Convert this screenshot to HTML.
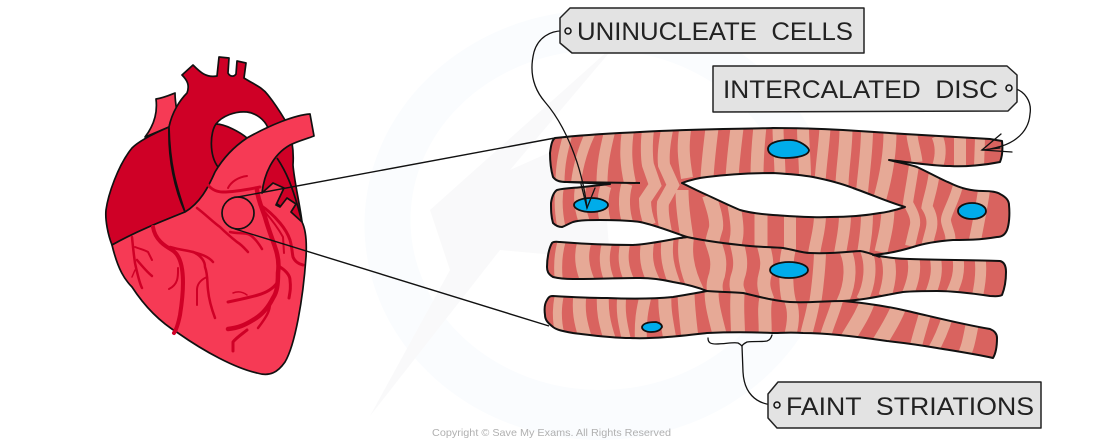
<!DOCTYPE html>
<html lang="en">
<head>
<meta charset="utf-8">
<title>Cardiac muscle diagram</title>
<style>
html,body{margin:0;padding:0;background:#fff;width:1100px;height:444px;overflow:hidden}
svg{display:block}
text{font-family:"Liberation Sans",sans-serif}
</style>
</head>
<body>
<svg width="1100" height="444" viewBox="0 0 1100 444" xmlns="http://www.w3.org/2000/svg">
<defs>
<clipPath id="cc"><path d="M555 138 C590 134 620 133 640 132 C690 129 740 129 773 128 C800 128 825 129 843 130 C890 133 950 137 990 139 L1002 141 C1003 150 1002 157 1000 162 C985 165 965 167 950 166 C935 166 915 163 889 160 C900 163 908 164 917 167 C930 173 940 179 950 183 C960 188 972 191 983 191 C992 191 997 192 1000 194 C1006 197 1009 201 1009 205 C1010 215 1009 225 1007 230 C1005 235 1001 237 997 237 C980 240 965 240 953 240 C940 241 925 243 913 247 C900 251 885 254 873 255 C885 257 897 259 910 259 C940 260 975 260 1000 261 C1004 262 1006 266 1006 272 C1006 282 1004 290 1002 295 C998 297 994 296 990 296 C970 293 950 291 937 291 C925 291 915 291 903 292 C885 295 865 300 843 301 C865 303 885 306 903 310 C930 316 960 324 990 329 C995 331 997 334 997 338 C997 347 996 353 993 358 C975 354 955 351 937 348 C920 345 905 343 887 341 C860 337 830 333 803 333 C790 332 780 333 773 333 C750 332 730 332 707 333 C680 336 655 339 630 338 C610 338 590 335 573 333 C562 331 557 330 553 327 C548 323 545 320 545 315 C544 308 545 303 547 300 C549 296 551 296 553 296 C570 297 590 298 607 298 C630 299 652 299 673 297 C685 295 697 293 707 291 C697 287 685 284 673 282 C660 279 650 278 640 278 C620 278 595 279 573 279 C563 279 557 278 553 277 C548 274 547 271 547 267 C547 258 549 248 552 243 C554 241 557 242 560 242 C585 244 610 245 633 245 C650 244 668 240 680 238 L687 237 C672 232 655 225 640 222 C625 220 612 220 600 220 C590 220 580 220 573 222 C568 224 565 226 562 227 C558 227 555 225 553 223 C551 216 551 210 551 203 C552 196 554 192 557 190 C565 188 575 188 583 187 L610 184 L567 182 C560 182 556 181 553 177 C551 170 550 160 550 153 C551 145 552 140 555 138Z"/></clipPath>
<clipPath id="ra"><polygon points="540,120 1020,120 1020,250 880,256 860,251 810,253 783,248 740,245 687,237 540,235"/></clipPath>
<clipPath id="rb"><polygon points="540,235 687,237 740,245 783,248 810,253 860,251 880,256 1020,250 1020,298 843,301 790,302 743,293 707,291 540,285"/></clipPath>
<clipPath id="rc"><polygon points="540,285 707,291 743,293 790,302 843,301 1020,298 1020,370 540,370"/></clipPath>
</defs>

<!-- watermark -->
<path fill="#fafcfe" fill-rule="evenodd" d="M600 10 A235 215 0 1 1 599 10Z M600 50 A190 170 0 1 0 601 50Z"/>
<polygon points="430,210 620,40 510,170 600,130 610,260 500,250 370,416 450,270" fill="#f9f9fa"/>

<!-- heart -->
<g stroke="#111" stroke-width="1.7" stroke-linejoin="round">
<path fill="#f63a55" d="M145 137 C152 128 158 115 156 99 C163 98 170 95 175 93 C175 100 176 106 177 112 C173 116 170 122 169 127Z"/>
<path fill="#cf0026" d="M112 245 C108 235 105 220 106 210 C108 195 118 165 132 148 C140 140 155 133 169 127 C168 160 175 190 185 212 C160 222 135 232 112 245Z"/>
<path fill="#cf0026" d="M169 127 C172 112 180 100 187 93 C190 85 187 80 182 75 L193 65 C200 72 206 78 217 76 L219 57 L229 58 L228 73 C230 77 234 77 236 74 L237 61 L246 63 L244 78 C255 85 262 87 268 95 C276 105 282 115 285 120 C292 135 294 150 293 165 C294 180 300 205 302 222 L262 193 L185 212 C178 190 170 170 169 127Z"/>
<path fill="#fff" d="M216 124 C222 116 235 111 247 112 C256 113 265 120 268 128 L247 138 C240 132 225 124 216 124Z"/>
<path fill="none" d="M216 124 C210 132 209 155 218 167"/>
<path fill="none" d="M277 158 C285 170 292 183 302 222"/>
<path fill="#f63a55" d="M112 245 C118 270 125 280 132 287 C145 307 160 322 178 333 C205 352 235 368 257 373 C270 377 278 372 285 362 C295 345 303 300 306 257 C307 240 305 228 302 222 L291 212 L296 204 L287 198 L280 207 L276 205 L284 188 L273 183 L262 193 C264 175 272 155 290 145 C298 141 306 139 314 136 L310 114 C295 115 270 125 247 138 C232 148 222 160 215 172 C208 188 200 203 185 212 C160 222 135 232 112 245Z"/>
</g>
<g fill="none" stroke="#cf0026" stroke-linecap="round" stroke-linejoin="round">
<path stroke-width="4" d="M153 227 C155 240 165 246 172 250 C186 258 184 290 180 315 C178 325 176 330 174 333"/>
<path stroke-width="2.5" d="M170 247 C180 250 186 250 193 252 C202 256 205 262 205 267 C208 275 207 282 208 290 C209 300 212 310 215 318"/>
<path stroke-width="2.5" d="M193 252 C200 254 208 256 213 262"/>
<path stroke-width="2" d="M207 277 C200 280 197 285 197 290 L197 305"/>
<path stroke-width="2" d="M178 268 C178 275 179 284 169 289"/>
<path stroke-width="2.5" d="M132 237 C133 248 134 256 135 263 C137 272 139 282 142 288"/>
<path stroke-width="2" d="M135 247 C140 249 145 250 148 252 L152 260"/>
<path stroke-width="2.5" d="M137 260 C142 266 147 272 152 276"/>
<path stroke-width="1.5" d="M135 270 L132 277"/>
<path stroke-width="3" d="M208 185 C212 190 218 192 223 192 C235 192 250 189 260 187"/>
<path stroke-width="2" d="M228 188 C231 182 238 177 247 176"/>
<path stroke-width="2.5" d="M197 208 C205 214 213 222 220 227 C226 233 232 238 237 242 C242 245 246 250 248 252"/>
<path stroke-width="2.5" d="M230 232 C238 234 245 232 250 235 C255 238 259 244 262 249"/>
<path stroke-width="4.5" d="M257 190 C258 200 262 208 265 217 C268 228 272 238 275 247 C279 258 279 266 278 273 C278 285 277 292 273 298 C268 308 262 315 253 320 C245 325 238 328 228 329"/>
<path stroke-width="3" d="M277 283 C272 290 265 293 258 295 C248 298 238 300 228 302"/>
<path stroke-width="1.5" d="M233 293 C238 291 243 292 247 295"/>
<path stroke-width="2.5" d="M270 303 C270 310 268 315 258 328"/>
<path stroke-width="3" d="M247 330 C242 334 236 338 233 342 L233 351"/>
<path stroke-width="3" d="M280 267 C285 270 290 275 290 280 C291 288 290 292 289 298"/>
<path stroke-width="3" d="M260 205 C268 210 275 217 280 223 C285 229 288 234 290 240 C292 247 292 252 293 257 C295 262 299 264 303 265"/>
<path stroke-width="2" d="M265 212 C272 220 278 228 283 237 L284 253"/>
</g>
<circle cx="238" cy="213" r="16" fill="none" stroke="#111" stroke-width="1.7"/>
<g fill="none" stroke="#111" stroke-width="1.4">
<path d="M238 197 L555 138"/>
<path d="M235 229 L549 326"/>
</g>

<!-- muscle cells -->
<g clip-path="url(#cc)">
<rect x="540" y="120" width="480" height="245" fill="#d9635f"/>
<g fill="none" stroke="#e6a996">
<g clip-path="url(#ra)">
<!-- top row -->
<path stroke-width="9" d="M569 130 C565 145 560 160 560 183"/>
<path stroke-width="10" d="M592 130 C584 145 578 165 576 183"/>
<path stroke-width="11" d="M610 130 C605 150 602 165 602 183"/>
<path stroke-width="12" d="M628 130 C625 150 626 165 630 183"/>
<path stroke-width="12" d="M648 130 C646 145 647 160 648 165 L655 185 L645 200 C645 208 646 215 650 225"/>
<path stroke-width="12" d="M667 130 C664 145 663 155 664 165 L673 185 L663 203 C662 212 664 222 666 232"/>
<path stroke-width="12" d="M685 130 C683 145 683 155 687 178"/>
<path stroke-width="13" d="M682 190 C682 205 684 220 687 238"/>
<path stroke-width="13" d="M712 128 C710 145 708 160 707 178"/>
<path stroke-width="14" d="M709 195 C714 210 717 220 716 228 C714 235 712 240 712 245"/>
<path stroke-width="13" d="M737 128 C735 145 733 160 732 178"/>
<path stroke-width="13" d="M734 205 C737 222 738 232 736 240 L734 250"/>
<path stroke-width="13" d="M760 126 C758 145 757 160 757 176"/>
<path stroke-width="13" d="M761 212 L761 250"/>
<path stroke-width="11" d="M778 126 C778 145 780 160 780 176"/>
<path stroke-width="12" d="M790 214 L790 252"/>
<path stroke-width="12" d="M803 126 C803 145 805 160 805 177"/>
<path stroke-width="12" d="M820 215 C820 230 816 240 814 254"/>
<path stroke-width="11" d="M825 128 C824 145 821 165 820 182"/>
<path stroke-width="12" d="M845 215 C845 230 842 240 840 254"/>
<path stroke-width="13" d="M846 128 C846 150 842 170 842 186"/>
<path stroke-width="12" d="M867 214 C867 230 865 240 863 254"/>
<path stroke-width="12" d="M867 130 C867 150 864 170 862 192"/>
<path stroke-width="13" d="M888 207 C888 225 884 238 881 252"/>
<path stroke-width="13" d="M890 132 C890 155 885 180 880 198"/>
<path stroke-width="11" d="M912 135 C913 145 916 152 917 162"/>
<path stroke-width="11" d="M937 136 C941 145 941 155 938 165"/>
<path stroke-width="12" d="M960 138 L960 167"/>
<path stroke-width="10" d="M980 138 L979 167"/>
<!-- row 2 left -->
<path stroke-width="8" d="M560 186 C558 197 558 212 562 230"/>
<path stroke-width="11" d="M581 186 C578 197 580 212 586 226"/>
<path stroke-width="11" d="M606 186 C602 197 602 212 606 224"/>
<path stroke-width="11" d="M627 184 C623 197 624 212 628 224"/>
<!-- right branch -->
<path stroke-width="10" d="M914 165 C912 180 909 195 908 203 C913 212 916 218 915 225 L910 246"/>
<path stroke-width="11" d="M934 175 C932 190 928 200 927 207 C932 215 933 222 931 230 L927 245"/>
<path stroke-width="10" d="M958 185 C955 200 945 215 946 221 C947 228 952 235 950 243"/>
<path stroke-width="12" d="M984 190 C982 205 978 225 975 240"/>
</g>
<g clip-path="url(#rb)">
<path stroke-width="8" d="M562 240 C559 250 557 265 559 282"/>
<path stroke-width="14" d="M585 240 C580 255 582 268 588 282"/>
<path stroke-width="10" d="M608 240 C603 255 604 268 610 282"/>
<path stroke-width="10" d="M626 240 C622 255 623 268 630 282"/>
<path stroke-width="13" d="M648 240 C645 255 646 268 655 284"/>
<path stroke-width="12" d="M668 236 C665 255 668 268 676 288"/>
<path stroke-width="15" d="M687 234 C684 250 685 268 697 292"/>
<path stroke-width="16" d="M711 236 C718 255 720 262 717 275 C714 283 714 288 716 296"/>
<path stroke-width="14" d="M736 240 C740 255 742 265 738 276 C735 285 737 290 740 296"/>
<path stroke-width="13" d="M763 244 C767 258 768 265 765 275 C762 285 765 292 768 300"/>
<path stroke-width="14" d="M790 246 C785 258 785 290 790 305"/>
<path stroke-width="12" d="M820 250 C820 262 818 285 815 304"/>
<path stroke-width="12" d="M845 250 C851 262 852 282 842 303"/>
<path stroke-width="12" d="M866 250 C872 265 870 285 862 300"/>
<path stroke-width="13" d="M887 255 C891 268 890 280 885 296"/>
<path stroke-width="12" d="M913 256 C916 270 913 282 907 296"/>
<path stroke-width="11" d="M935 256 C938 270 936 280 930 295"/>
<path stroke-width="11" d="M958 258 C960 272 957 282 950 296"/>
<path stroke-width="11" d="M980 258 C982 272 980 285 977 298"/>
</g>
<g clip-path="url(#rc)">
<path stroke-width="9" d="M560 292 C557 305 556 318 560 335"/>
<path stroke-width="13" d="M580 294 C578 310 580 322 586 340"/>
<path stroke-width="12" d="M603 294 C602 310 604 322 610 340"/>
<path stroke-width="9" d="M622 294 C620 310 622 322 627 342"/>
<path stroke-width="12" d="M646 294 C642 310 640 322 641 342"/>
<path stroke-width="13" d="M665 294 C664 310 667 322 670 340"/>
<path stroke-width="17" d="M686 290 C686 305 688 322 690 338"/>
<path stroke-width="14" d="M712 288 C710 300 716 320 720 336"/>
<path stroke-width="14" d="M738 290 C736 305 738 320 738 336"/>
<path stroke-width="13" d="M766 298 C763 310 766 322 765 336"/>
<path stroke-width="12" d="M790 300 C795 312 793 325 790 336"/>
<path stroke-width="12" d="M814 300 C812 315 808 325 806 336"/>
<path stroke-width="11" d="M838 298 C835 312 828 325 825 338"/>
<path stroke-width="15" d="M868 300 C862 318 852 330 846 342"/>
<path stroke-width="15" d="M900 304 C894 320 884 335 878 345"/>
<path stroke-width="12" d="M926 310 C922 325 917 340 915 350"/>
<path stroke-width="11" d="M948 315 C944 328 938 342 932 352"/>
<path stroke-width="13" d="M973 320 C970 335 968 350 962 358"/>
</g>
</g>
</g>
<path fill="#fff" stroke="#111" stroke-width="2" stroke-linejoin="round" d="M682 183 C690 180 698 178 707 177 C730 174 750 173 773 173 C790 174 802 175 813 177 C828 180 840 183 853 188 C870 194 888 202 905 207 C896 210 888 212 880 213 C863 216 846 217 830 217 C810 218 790 216 773 215 C760 214 750 213 740 210 C728 205 718 200 707 195 C698 191 690 187 682 183Z"/>
<g fill="none" stroke="#111" stroke-width="2" stroke-linejoin="round">
<path d="M555 138 C590 134 620 133 640 132 C690 129 740 129 773 128 C800 128 825 129 843 130 C890 133 950 137 990 139 L1002 141 C1003 150 1002 157 1000 162 C985 165 965 167 950 166 C935 166 915 163 889 160 C900 163 908 164 917 167 C930 173 940 179 950 183 C960 188 972 191 983 191 C992 191 997 192 1000 194 C1006 197 1009 201 1009 205 C1010 215 1009 225 1007 230 C1005 235 1001 237 997 237 C980 240 965 240 953 240 C940 241 925 243 913 247 C900 251 885 254 873 255 C885 257 897 259 910 259 C940 260 975 260 1000 261 C1004 262 1006 266 1006 272 C1006 282 1004 290 1002 295 C998 297 994 296 990 296 C970 293 950 291 937 291 C925 291 915 291 903 292 C885 295 865 300 843 301 C865 303 885 306 903 310 C930 316 960 324 990 329 C995 331 997 334 997 338 C997 347 996 353 993 358 C975 354 955 351 937 348 C920 345 905 343 887 341 C860 337 830 333 803 333 C790 332 780 333 773 333 C750 332 730 332 707 333 C680 336 655 339 630 338 C610 338 590 335 573 333 C562 331 557 330 553 327 C548 323 545 320 545 315 C544 308 545 303 547 300 C549 296 551 296 553 296 C570 297 590 298 607 298 C630 299 652 299 673 297 C685 295 697 293 707 291 C697 287 685 284 673 282 C660 279 650 278 640 278 C620 278 595 279 573 279 C563 279 557 278 553 277 C548 274 547 271 547 267 C547 258 549 248 552 243 C554 241 557 242 560 242 C585 244 610 245 633 245 C650 244 668 240 680 238 L687 237 C672 232 655 225 640 222 C625 220 612 220 600 220 C590 220 580 220 573 222 C568 224 565 226 562 227 C558 227 555 225 553 223 C551 216 551 210 551 203 C552 196 554 192 557 190 C565 188 575 188 583 187 L610 184 L567 182 C560 182 556 181 553 177 C551 170 550 160 550 153 C551 145 552 140 555 138Z"/>
<path d="M567 182 L640 183"/>
<path d="M680 238 L687 237 C705 241 722 243 740 245 C755 247 770 247 783 248 C795 250 802 253 810 253 C830 254 845 252 860 251 C867 252 872 254 880 257"/>
<path d="M707 291 C720 292 732 292 743 293 C760 297 775 301 790 302 C808 303 825 301 843 301"/>
</g>
<g fill="#00acea" stroke="#111" stroke-width="1.8">
<path d="M768 149 C768 143 778 140 790 140 C800 140 808 147 809 150 C809 156 795 158 785 158 C775 158 768 154 768 149Z"/>
<ellipse cx="972" cy="211" rx="14" ry="8"/>
<ellipse cx="591" cy="205" rx="17" ry="7"/>
<ellipse cx="789" cy="270" rx="19" ry="8"/>
<path d="M642 327 C643 323 650 322 656 322 C660 323 662 325 662 327 C660 331 655 332 651 332 C646 332 642 330 642 327Z"/>
</g>

<!-- connectors -->
<g fill="none" stroke="#111" stroke-width="1.3" stroke-linecap="round">
<path d="M565 31 C550 30 538 38 534 52 C529 72 533 88 545 102 C565 125 582 165 587 208"/>
<path d="M581 184 L587 208 L595 188"/>
<path d="M1012 88 C1025 90 1032 102 1030 114 C1029 128 1020 140 1002 146 C995 148 988 150 982 150"/>
<path d="M1001 134 L982 150 L1012 152"/>
<path d="M982 150 L1000 148"/>
<path d="M708 338 C708 343 711 344 716 344 C725 344 733 342 738 343 C740 344 741 345 742 346 C743 344 745 343 747 342 C755 341 763 342 767 341 C770 340 771 338 772 335"/>
<path d="M742 346 L743 372 C744 392 755 404 774 405"/>
</g>

<!-- labels -->
<g fill="#e3e3e3" stroke="#222" stroke-width="1.5" stroke-linejoin="round">
<polygon points="560,18 570,8 864,8 864,53 572,53 560,43"/>
<polygon points="713,66 1007,66 1017,75 1017,102 1008,111 713,112"/>
<polygon points="778,382 1041,382 1041,428 777,428 768,418 768,394"/>
</g>
<g fill="#e3e3e3" stroke="#111" stroke-width="1.5">
<circle cx="568" cy="31" r="3"/>
<circle cx="1009" cy="88" r="3"/>
<circle cx="777" cy="405" r="3"/>
</g>
<g fill="#222" font-size="25">
<text x="577" y="40" textLength="276" lengthAdjust="spacingAndGlyphs" xml:space="preserve">UNINUCLEATE  CELLS</text>
<text x="723" y="98" textLength="275" lengthAdjust="spacingAndGlyphs" xml:space="preserve">INTERCALATED  DISC</text>
<text x="786" y="415" textLength="248" lengthAdjust="spacingAndGlyphs" xml:space="preserve">FAINT  STRIATIONS</text>
</g>
<text x="432" y="436" font-size="10.5" fill="#b0b0b0" textLength="239" lengthAdjust="spacingAndGlyphs">Copyright © Save My Exams. All Rights Reserved</text>
</svg>
</body>
</html>
